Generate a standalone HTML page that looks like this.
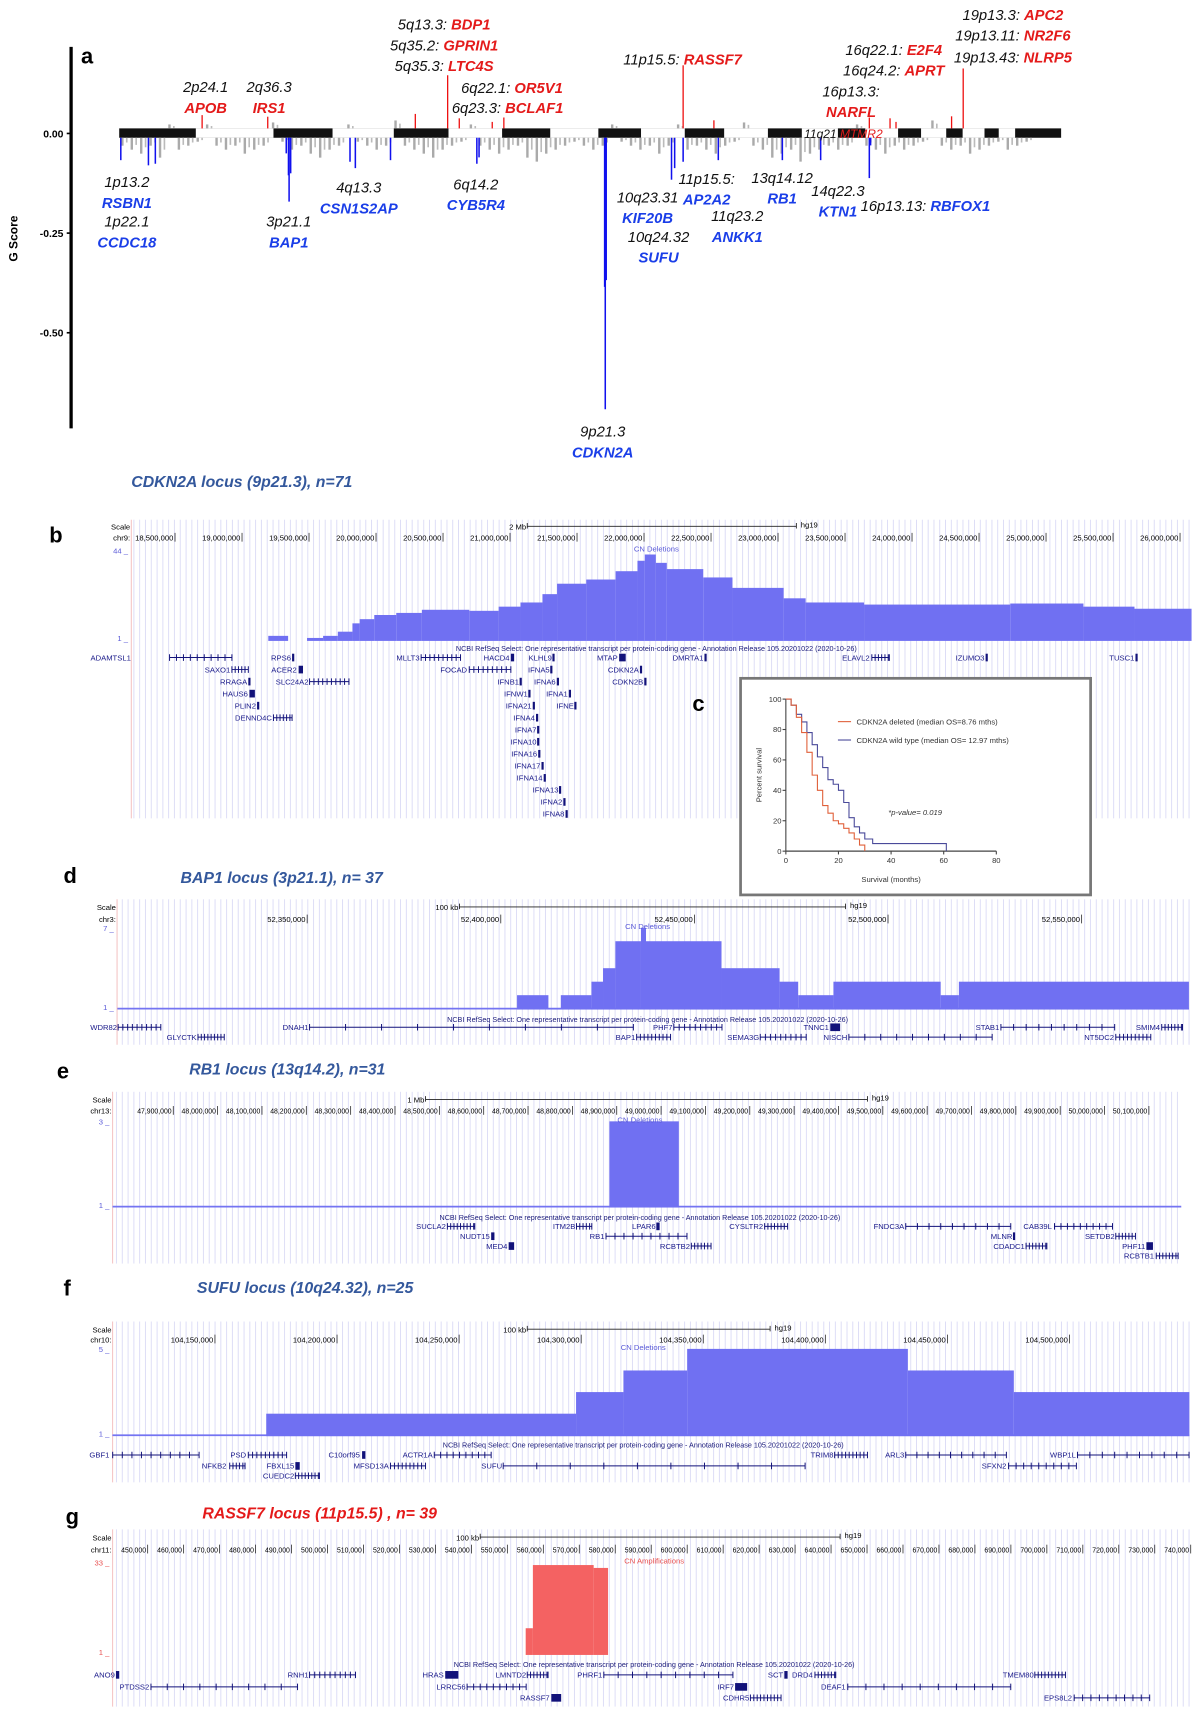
<!DOCTYPE html>
<html><head><meta charset="utf-8"><title>Figure</title>
<style>
html,body{margin:0;padding:0;background:#fff;}
svg{display:block;font-family:"Liberation Sans",sans-serif;}
</style></head>
<body>
<svg id="s" xmlns="http://www.w3.org/2000/svg" viewBox="0 0 1097 1574" width="1200" height="1722">
<defs>
<pattern id="grid" width="5.3" height="10" patternUnits="userSpaceOnUse"><line x1="0.5" y1="0" x2="0.5" y2="10" stroke="#d4d4f4" stroke-width="0.7"/></pattern>
</defs>
<rect width="1097" height="1574" fill="#fff"/>
<g id="pa"></g>
<g id="pb"></g>
<g id="pc"></g>
<g id="pd"></g>
<g id="pe"></g>
<g id="pf"></g>
<g id="pg"></g>
</svg>
<script>
// ===== Panel a data =====
const aRedPos = [264,473,943,1046,1083,1188,1225,1796,1894,2389,2455,2474,2651,2688];
const aRedVal = [0.046,0.042,0.049,0.146,0.038,0.029,0.04,0.171,0.033,0.04,0.038,0.029,0.043,0.163];
const aBluePos = [5,93,115,532,539,541,546,735,752,864,1139,1146,1546,1548,1551,1759,1769,1796,1908,2112,2234,2389,2393];
const aBlueVal = [-0.067,-0.08,-0.076,-0.05,-0.105,-0.171,-0.1,-0.071,-0.087,-0.067,-0.076,-0.06,-0.385,-0.692,-0.368,-0.116,-0.087,-0.071,-0.067,-0.067,-0.067,-0.112,-0.03];
const aGrayVal = [-0.02,-0.03,-0.04,-0.02,-0.05,0.01,-0.03,-0.02,-0.01,0.01,-0.02,-0.03,-0.02,-0.04,-0.03,-0.02,0.015,-0.01,-0.03,-0.02,-0.04,-0.05,-0.03,-0.02,0.01,-0.01,-0.02,-0.03,-0.02,0.02,-0.02,-0.03,-0.04,-0.05,-0.03,-0.02,-0.01,0.01,-0.02,-0.03,-0.04,-0.03,-0.02,-0.05,-0.06,-0.04,-0.03,-0.02,-0.01,-0.02,-0.03,-0.02,0.01,-0.01,-0.02,-0.03,-0.02,-0.04,-0.02,0.01,-0.03,-0.02,-0.03,-0.04,-0.02,-0.01,0.015,-0.02,-0.03,-0.05,-0.04,-0.03,-0.06,-0.04,-0.03,-0.02,-0.03,-0.02,0.01,-0.02,-0.03,-0.04,-0.02,-0.03,-0.02,-0.01,0.02,-0.02,-0.03,-0.02,-0.04,-0.03,-0.02,-0.01,-0.03,-0.02,-0.01];
const aTickVals = [0, -0.25, -0.5];
const aTickLabels = ["0.00","-0.25","-0.50"];
// ===== Panel b data (Mb) =====
const bPos = [19.196,19.344,19.485,19.605,19.715,19.824,19.878,19.987,20.151,20.342,20.696,20.915,21.078,21.242,21.351,21.569,21.788,21.951,22.006,22.088,22.170,22.442,22.660,23.042,23.206,23.642,24.733,25.279,25.66,26.086];
const bVal = [3,0,2,3,5,9,11,13,14,15.5,15,17,19,23,28,30,34,39,42,38,35,31,26,21,19,18,18.5,17,16];
const bTicks = [18500000,19000000,19500000,20000000,20500000,21000000,21500000,22000000,22500000,23000000,23500000,24000000,24500000,25000000,25500000,26000000];
// ===== Panel d data (kb) =====
const dPos = [52404.2,52412.3,52415.5,52423.4,52426.4,52429.6,52436.2,52437.5,52457,52472,52476.8,52485.9,52513.6,52518.3,52577.7];
const dVal = [2,1,2,3,4,6,7,6,4,3,2,3,2,3];
const dTicks = [52350000,52400000,52450000,52500000,52550000];
// ===== Panel e data (kb) =====
const ePos = [48883.5,49040];
const eVal = [3];
const eTicks = [47900000,48000000,48100000,48200000,48300000,48400000,48500000,48600000,48700000,48800000,48900000,49000000,49100000,49200000,49300000,49400000,49500000,49600000,49700000,49800000,49900000,50000000,50100000];
// ===== Panel f data (kb) =====
const fPos = [104171,104297.9,104317.3,104343.4,104433.8,104477.2,104549.1];
const fVal = [2,3,4,5,4,3];
const fTicks = [104150000,104200000,104250000,104300000,104350000,104400000,104450000,104500000];
// ===== Panel g data (kb) =====
const gPos = [555.1,557.1,574,578];
const gVal = [10,32,31];
const gTicks = [450000,460000,470000,480000,490000,500000,510000,520000,530000,540000,550000,560000,570000,580000,590000,600000,610000,620000,630000,640000,650000,660000,670000,680000,690000,700000,710000,720000,730000,740000];
// ===== Panel c data (KM) =====
const kmRedT = [0,2,4,6,8,10,12,14,16,18,20,22,24,26,28,30];
const kmRedS = [100,96,88,78,65,50,40,30,25,20,18,15,12,8,4,0];
const kmBlueT = [0,2,4,6,8,10,12,14,16,18,20,22,24,26,28,30,33,61];
const kmBlueS = [100,96,90,85,78,70,62,55,47,44,40,32,22,16,12,8,5,0];
const kmXTicks = [0,20,40,60,80];
const kmYTicks = [0,20,40,60,80,100];

const NS = 'http://www.w3.org/2000/svg';
function mk(tag, parent, attrs) {
  const e = document.createElementNS(NS, tag);
  for (const k in attrs) e.setAttribute(k, attrs[k]);
  parent.appendChild(e);
  return e;
}
function txt(parent, x, y, s, attrs) {
  const e = mk('text', parent, Object.assign({x: x, y: y}, attrs || {}));
  e.textContent = s;
  return e;
}

// ================= PANEL A =================
(function(){
  const g = document.getElementById('pa');
  const xA = p => 109 + p / 3.484;
  const yA = v => 121.9 - v * 364.4;
  const ax = mk('line', g, {x1:65, y1:42.7, x2:65, y2:391.5, stroke:'#000', 'stroke-width':3});
  
  
  aTickVals.forEach((v,i) => {
    const t = mk('line', g, {x1:61, x2:65, y1:yA(v), y2:yA(v), stroke:'#000', 'stroke-width':1.5});
    
    
    const l = txt(g, 58, yA(v)+3.5, aTickLabels[i], {'text-anchor':'end','font-size':9.5,'font-weight':'bold'});
    
    
  });
  const yt = txt(g, 0, 0, 'G Score', {'font-size':11,'font-weight':'bold','text-anchor':'middle',transform:'translate(16,218) rotate(-90)'});
  
  
  const la = txt(g, 74, 58, 'a', {'font-size':20,'font-weight':'bold'});
  
  
  mk('rect', g, {x:109, y:117.3, width:861, height:8.5, fill:'#fff', stroke:'#ddd','stroke-width':0.5});
  const blacks = [[109,179],[250,304],[360,410],[459,503],[547,586],[626,662],[702,733],[766,791],[821,842],[865,880],[900,913],[928,970]];
  blacks.forEach(b => {
    const r = mk('rect', g, {x:b[0], y:117.3, width:b[1]-b[0], height:8.5, fill:'#111'});
    
    
  });
  aGrayVal.forEach((v,i) => {
    const p = i * 30 + 10;
    const y0 = v > 0 ? 117.3 : 125.8;
    const r = mk('line', g, {x1:xA(p), x2:xA(p), y1:y0, y2:y0 - v*364.4, stroke:'#aaa','stroke-width':2.2});
    
    
    const r2 = mk('line', g, {x1:xA(p)+4, x2:xA(p)+4, y1:y0, y2:y0 - v*0.6*364.4, stroke:'#bbb','stroke-width':1.5});
    
    
  });
  aRedPos.forEach((p,i) => {
    const l = mk('line', g, {x1:xA(p), x2:xA(p), y1:117.3, y2:yA(aRedVal[i]), stroke:'#ee1111','stroke-width':1.2});
    
    
  });
  aBluePos.forEach((p,i) => {
    const l = mk('line', g, {x1:xA(p), x2:xA(p), y1:125.8, y2:yA(aBlueVal[i]), stroke:'#1111ee','stroke-width':1.4});
    
    
  });
  const redLabels = [
    [406,22,'5q13.3: ','BDP1'],[406,41,'5q35.2: ','GPRIN1'],[406,60,'5q35.3: ','LTC4S'],
    [468,80,'6q22.1: ','OR5V1'],[464,98,'6q23.3: ','BCLAF1'],[624,54,'11p15.5: ','RASSF7'],
    [817,45,'16q22.1: ','E2F4'],[817,64,'16q24.2: ','APRT'],
    [926,13,'19p13.3: ','APC2'],[926,32,'19p13.11: ','NR2F6'],[926,52,'19p13.43: ','NLRP5']];
  redLabels.forEach(L => {
    const t = txt(g, L[0], L[1]+5, '', {'text-anchor':'middle','font-size':13.5,'font-style':'italic'});
    const s1 = mk('tspan', t, {fill:'#111'}); s1.textContent = L[2];
    const s2 = mk('tspan', t, {fill:'#e41a1a','font-weight':'bold'}); s2.textContent = L[3];
    
    
  });
  const stacked = [
    [188,79,'2p24.1','APOB','#e41a1a'],[246,79,'2q36.3','IRS1','#e41a1a'],[778,83,'16p13.3:','NARFL','#e41a1a'],
    [116,166,'1p13.2','RSBN1','#1a3ee8'],[116,202,'1p22.1','CCDC18','#1a3ee8'],[264,202,'3p21.1','BAP1','#1a3ee8'],
    [328,171,'4q13.3','CSN1S2AP','#1a3ee8'],[435,168,'6q14.2','CYB5R4','#1a3ee8'],[592,180,'10q23.31','KIF20B','#1a3ee8'],
    [602,216,'10q24.32','SUFU','#1a3ee8'],[646,163,'11p15.5:','AP2A2','#1a3ee8'],[674,197,'11q23.2','ANKK1','#1a3ee8'],
    [715,162,'13q14.12','RB1','#1a3ee8'],[766,174,'14q22.3','KTN1','#1a3ee8'],[551,394,'9p21.3','CDKN2A','#1a3ee8']];
  stacked.forEach(L => {
    const t1 = txt(g, L[0], L[1]+5, L[2], {'text-anchor':'middle','font-size':13.5,'font-style':'italic',fill:'#111'});
    
    
    const t2 = txt(g, L[0], L[1]+24, L[3], {'text-anchor':'middle','font-size':13.5,'font-style':'italic','font-weight':'bold',fill:L[4]});
    
    
  });
  const rb = txt(g, 846, 193, '', {'text-anchor':'middle','font-size':13.5,'font-style':'italic'});
  const r1 = mk('tspan', rb, {fill:'#111'}); r1.textContent = '16p13.13: ';
  const r2 = mk('tspan', rb, {fill:'#1a3ee8','font-weight':'bold'}); r2.textContent = 'RBFOX1';
  
  
  const mt = txt(g, 771, 126, '', {'text-anchor':'middle','font-size':11,'font-style':'italic'});
  const m1 = mk('tspan', mt, {fill:'#111'}); m1.textContent = '11q21 ';
  const m2 = mk('tspan', mt, {fill:'#e41a1a'}); m2.textContent = 'MTMR2';
  
  
})();

// ================= BROWSER PANELS =================
const NCBI = 'NCBI RefSeq Select: One representative transcript per protein-coding gene - Annotation Release 105.20201022 (2020-10-26)';
function browser(cfg, pos, val, ticks) {
  const g = document.getElementById(cfg.id);
  const gr = mk('rect', g, {x:cfg.gx0, y:cfg.gy0, width:cfg.gx1-cfg.gx0, height:cfg.gy1-cfg.gy0, fill:'url(#grid)'});
  
  
  mk('line', g, {x1:cfg.gx0, x2:cfg.gx0, y1:cfg.gy0, y2:cfg.gy1, stroke:'#f2b8b8','stroke-width':0.8});
  const hd = txt(g, cfg.hx, cfg.hy+5, cfg.title, {'font-size':14.5,'font-weight':'bold','font-style':'italic',fill:cfg.tcol});
  
  
  const lt = txt(g, cfg.lx, cfg.ly+7, cfg.letter, {'font-size':20,'font-weight':'bold'});
  
  
  txt(g, cfg.gx0-1, cfg.sy+3, 'Scale', {'font-size':7,'text-anchor':'end'});
  txt(g, cfg.gx0-1, cfg.cy+3, cfg.chr, {'font-size':7,'text-anchor':'end'});
  const sbl = txt(g, cfg.sb[0]-1, cfg.sy+3, cfg.sbLabel, {'font-size':7,'text-anchor':'end'});
  
  
  const sb = mk('path', g, {d:`M${cfg.sb[0]},${cfg.sy-3}v5M${cfg.sb[0]},${cfg.sy}H${cfg.sb[1]}M${cfg.sb[1]},${cfg.sy-3}v5`, stroke:'#222','stroke-width':0.8, fill:'none'});
  
  
  txt(g, cfg.sb[1]+4, cfg.sy+1, 'hg19', {'font-size':7});
  ticks.forEach(t => {
    const x = cfg.xs(t);
    const tk = mk('line', g, {x1:x, x2:x, y1:cfg.cy-4, y2:cfg.cy+4, stroke:'#222','stroke-width':0.7});
    
    
    const tl = txt(g, x-1.5, cfg.cy+3, t.toLocaleString('en-US'), {'font-size':cfg.tfs||7,'text-anchor':'end'});
    
    
  });
  txt(g, cfg.gx0-3, cfg.ty0+3, cfg.max + ' _', {'font-size':7,'text-anchor':'end',fill:cfg.col2});
  txt(g, cfg.gx0-3, cfg.ty1+1, '1 _', {'font-size':7,'text-anchor':'end',fill:cfg.col2});
  const yv = v => cfg.ty1 - (v-1)/(cfg.max-1)*(cfg.ty1-cfg.ty0);
  if (cfg.base) {
    const bl = mk('line', g, {x1:cfg.xs(cfg.base[0]), x2:cfg.xs(cfg.base[1]), y1:cfg.ty1, y2:cfg.ty1, stroke:'#7474f2','stroke-width':1.6});
    
    
  }
  for (let i = 0; i < val.length; i++) {
    if (val[i] <= 0) continue;
    const x0 = cfg.xs(pos[i]), x1 = cfg.xs(pos[i+1]);
    const r = mk('rect', g, {x:x0, y:yv(val[i]), width:Math.max(0.5,x1-x0), height:cfg.ty1-yv(val[i])+0.8, fill:cfg.col});
    
    
  }
  const cn = txt(g, cfg.cnx, cfg.ty0+1, cfg.cnLabel, {'font-size':7,'text-anchor':'middle',fill:cfg.col2});
  
  
  const nc = txt(g, cfg.cnx, cfg.ny+3, NCBI, {'font-size':6.6,'text-anchor':'middle',fill:'#1a1a7a'});
  
  
  cfg.genes.forEach(G => {
    const y = cfg.rows[G[2]];
    const t = txt(g, G[1], y+2.5, G[0], {'font-size':7,'text-anchor':'end',fill:'#1a1a8a'});
    
    
    const w = G[4]-G[3];
    if (w < 14) {
      const b = mk('rect', g, {x:G[3], y:y-3.5, width:w, height:7, fill:'#12127a'});
      
      
    } else {
      let d = `M${G[3]},${y}H${G[4]}`;
      for (let x = G[3]; x <= G[4]; x += Math.max(3, w/9)) d += `M${x.toFixed(1)},${y-3}v6`;
      d += `M${G[4]},${y-3}v6`;
      const p = mk('path', g, {d:d, stroke:'#12127a','stroke-width':0.9, fill:'none'});
      
      
    }
  });
}

const rowsB = []; for (let i = 0; i < 14; i++) rowsB.push(601 + i*11);
browser({id:'pb', title:'CDKN2A locus (9p21.3), n=71', tcol:'#34589c', hx:120, hy:440, letter:'b', lx:45, ly:489,
  gx0:120, gx1:1089, gy0:475, gy1:748, sy:481, cy:491, chr:'chr9:', sb:[482,728], sbLabel:'2 Mb',
  xs: v => 160 + (v/1e6 - 18.5) * 122.5, ty0:503, ty1:585, max:44, col:'#7070f2', col2:'#5a5ad8', cnx:600, cnLabel:'CN Deletions', ny:592,
  base:null, rows:rowsB, tfs:7,
  genes:[['ADAMTSL1',119.6,0,155,212],['SAXO1',210.5,1,212,227],['RRAGA',226,2,227,229],['HAUS6',226.6,3,228,233],['PLIN2',234,4,235,237],
    ['DENND4C',248.6,5,250,267],['RPS6',266,0,267,269],['ACER2',271.3,1,273,277],['SLC24A2',282,2,283,319],['MLLT3',383.6,0,385,421],
    ['HACD4',465.8,0,467,470],['FOCAD',427,1,429,467],['KLHL9',504.5,0,505,507],['IFNA5',502.5,1,503,505],['IFNB1',474.5,2,475,477],
    ['IFNA6',508,2,509,511],['IFNW1',482.5,3,483,485],['IFNA1',519,3,520,522],['IFNA21',486,4,487,489],['IFNE',524.6,4,525,527],
    ['IFNA4',489,5,490,492],['IFNA7',490.5,6,491,493],['IFNA10',490.5,7,491,493],['IFNA16',491,8,492,494],['IFNA17',494,9,495,497],
    ['IFNA14',496,10,497,499],['IFNA13',510.6,11,511,513],['IFNA2',514,12,515,517],['IFNA8',516,13,517,519],['MTAP',564.7,0,566,572],
    ['CDKN2A',584,1,585,587],['CDKN2B',588,2,589,591],['DMRTA1',643,0,644,646],['ELAVL2',795,0,797,813],['IZUMO3',900,0,901,903],['TUSC1',1037,0,1038,1040]]
}, bPos.map(v=>v*1e6), bVal, bTicks);

browser({id:'pd', title:'BAP1 locus (3p21.1), n= 37', tcol:'#34589c', hx:165, hy:802, letter:'d', lx:58, ly:800,
  gx0:107, gx1:1089, gy0:822, gy1:955, sy:829, cy:840, chr:'chr3:', sb:[420,773], sbLabel:'100 kb',
  xs: v => 457.8 + (v/1000 - 52400) * 3.54, ty0:848, ty1:922, max:7, col:'#7070f2', col2:'#5a5ad8', cnx:592, cnLabel:'CN Deletions', ny:931,
  base:[52301000,52577700], rows:[939,948],
  genes:[['WDR82',107,0,108,147],['GLYCTK',179.8,1,181,205],['DNAH1',282,0,283,579],['PHF7',614.8,0,616,660],['BAP1',580.7,1,582,613],
    ['SEMA3G',694,1,695,737],['TNNC1',757.8,0,759,768],['NISCH',774.5,1,776,907],['STAB1',913.5,0,915,1019],['NT5DC2',1018.4,1,1020,1052],['SMIM4',1060.5,0,1062,1081]]
}, dPos.map(v=>v*1000), dVal, dTicks);

browser({id:'pe', title:'RB1 locus (13q14.2), n=31', tcol:'#34589c', hx:173, hy:977, letter:'e', lx:52, ly:979,
  gx0:103, gx1:1080, gy0:998, gy1:1155, sy:1005, cy:1015, chr:'chr13:', sb:[389,793], sbLabel:'1 Mb',
  xs: v => 158.4 + (v/1000 - 47900) * 0.4054, ty0:1025, ty1:1103, max:3, col:'#7070f2', col2:'#5a5ad8', cnx:585, cnLabel:'CN Deletions', ny:1112,
  base:[47763000,50173000], rows:[1121,1130,1139,1148], tfs:6.3,
  genes:[['SUCLA2',407.6,0,409,434],['NUDT15',447.7,1,449,452],['MED4',463.8,2,465,470],['ITM2B',526,0,527,541],['RB1',552.6,1,554,628],
    ['LPAR6',599.4,0,600,603],['RCBTB2',630.8,2,632,650],['CYSLTR2',697.6,0,699,720],['FNDC3A',826.6,0,828,924],['MLNR',925.5,1,926,928],
    ['CDADC1',936.8,2,938,957],['CAB39L',961.6,0,964,1017],['SETDB2',1019,1,1020,1038],['PHF11',1047,2,1048,1054],['RCBTB1',1055,3,1057,1077]]
}, ePos.map(v=>v*1000), eVal, eTicks);

browser({id:'pf', title:'SUFU locus (10q24.32), n=25', tcol:'#34589c', hx:180, hy:1177, letter:'f', lx:58, ly:1177,
  gx0:103, gx1:1089, gy0:1208, gy1:1355, sy:1215, cy:1224, chr:'chr10:', sb:[482,704], sbLabel:'100 kb',
  xs: v => 196.5 + (v/1000 - 104150) * 2.232, ty0:1233, ty1:1312, max:5, col:'#7070f2', col2:'#5a5ad8', cnx:588, cnLabel:'CN Deletions', ny:1320,
  base:[104108000,104549100], rows:[1330,1340,1349],
  genes:[['GBF1',100,0,103,182],['PSD',225,0,227,262],['NFKB2',207,1,210,224],['FBXL15',269,1,270,274],['CUEDC2',269,2,270,292],
    ['C10orf95',329,0,331,334],['MFSD13A',355.5,1,357,389],['ACTR1A',395.6,0,397,449],['SUFU',459,1,460,736],['TRIM8',762,0,763,793],
    ['ARL3',826.6,0,828,920],['SFXN2',920,1,922,984],['WBP1L',983.6,0,985,1087]]
}, fPos.map(v=>v*1000), fVal, fTicks);

browser({id:'pg', title:'RASSF7 locus (11p15.5) , n= 39', tcol:'#e41a1a', hx:185, hy:1383, letter:'g', lx:60, ly:1386,
  gx0:103, gx1:1089, gy0:1398, gy1:1560, sy:1405, cy:1416, chr:'chr11:', sb:[439,768], sbLabel:'100 kb',
  xs: v => 135 + (v/1000 - 450) * 3.288, ty0:1428, ty1:1512, max:33, col:'#f46262', col2:'#e85050', cnx:598, cnLabel:'CN Amplifications', ny:1521,
  base:null, rows:[1531,1542,1552], tfs:6.3,
  genes:[['ANO9',105,0,106,109],['PTDSS2',136.4,1,138,272],['RNH1',282,0,283,325],['HRAS',405.6,0,407,419],['LRRC56',425.7,1,427,481],
    ['LMNTD2',481,0,482,501],['RASSF7',502.5,2,504,513],['PHRF1',550.6,0,552,670],['IRF7',671,1,672,683],['CDHR5',685,2,686,714],
    ['SCT',716,0,717,720],['DRD4',743,0,745,764],['DEAF1',773,1,775,924],['TMEM80',945,0,946,974],['EPS8L2',980,2,982,1051]]
}, gPos.map(v=>v*1000), gVal, gTicks);

// ================= PANEL C =================
(function(){
  const g = document.getElementById('pc');
  const xs = m => 718.4 + m * 2.405;
  const ys = p => 778 - p * 1.39;
  const bx = mk('rect', g, {x:677, y:620, width:320, height:198, fill:'#fff', stroke:'#777','stroke-width':2.5});
  
  
  const lc = txt(g, 633, 650, 'c', {'font-size':20,'font-weight':'bold'});
  
  
  mk('line', g, {x1:xs(0), x2:xs(0), y1:ys(100), y2:ys(0), stroke:'#444','stroke-width':1});
  mk('line', g, {x1:xs(0), x2:xs(80), y1:ys(0), y2:ys(0), stroke:'#444','stroke-width':1.2});
  kmYTicks.forEach(v => {
    mk('line', g, {x1:xs(0)-3, x2:xs(0), y1:ys(v), y2:ys(v), stroke:'#444'});
    const t = txt(g, xs(0)-4, ys(v)+2.5, String(v), {'font-size':7,'text-anchor':'end',fill:'#333'});
    
    
  });
  kmXTicks.forEach(v => {
    mk('line', g, {x1:xs(v), x2:xs(v), y1:ys(0), y2:ys(0)+3, stroke:'#444'});
    const t = txt(g, xs(v), ys(0)+11, String(v), {'font-size':7,'text-anchor':'middle',fill:'#333'});
    
    
  });
  const xt = txt(g, xs(40), 806, 'Survival (months)', {'font-size':7,'text-anchor':'middle',fill:'#333'});
  
  
  const yt = txt(g, 0, 0, 'Percent survival', {'font-size':7,'text-anchor':'middle',fill:'#333',transform:`translate(696,${ys(50)}) rotate(-90)`});
  
  
  function step(T, S) {
    let d = `M${xs(T[0])},${ys(S[0])}`;
    for (let i = 1; i < T.length; i++) d += `H${xs(T[i])}V${ys(S[i])}`;
    return d;
  }
  const pb = mk('path', g, {d:step(kmBlueT, kmBlueS), stroke:'#4a4a9a', fill:'none','stroke-width':1});
  
  
  const pr = mk('path', g, {d:step(kmRedT, kmRedS), stroke:'#e0603a', fill:'none','stroke-width':1});
  
  
  mk('line', g, {x1:766, x2:778, y1:659.6, y2:659.6, stroke:'#e0603a'});
  const l1 = txt(g, 783, 662, 'CDKN2A deleted (median OS=8.76 mths)', {'font-size':7,fill:'#333'});
  
  
  mk('line', g, {x1:766, x2:778, y1:676.4, y2:676.4, stroke:'#4a4a9a'});
  const l2 = txt(g, 783, 679, 'CDKN2A  wild type (median OS= 12.97 mths)', {'font-size':7,fill:'#333'});
  
  
  const pv = txt(g, 812, 745, '*p-value= 0.019', {'font-size':7,'font-style':'italic',fill:'#333'});
  
  
})();
</script>
</body></html>
